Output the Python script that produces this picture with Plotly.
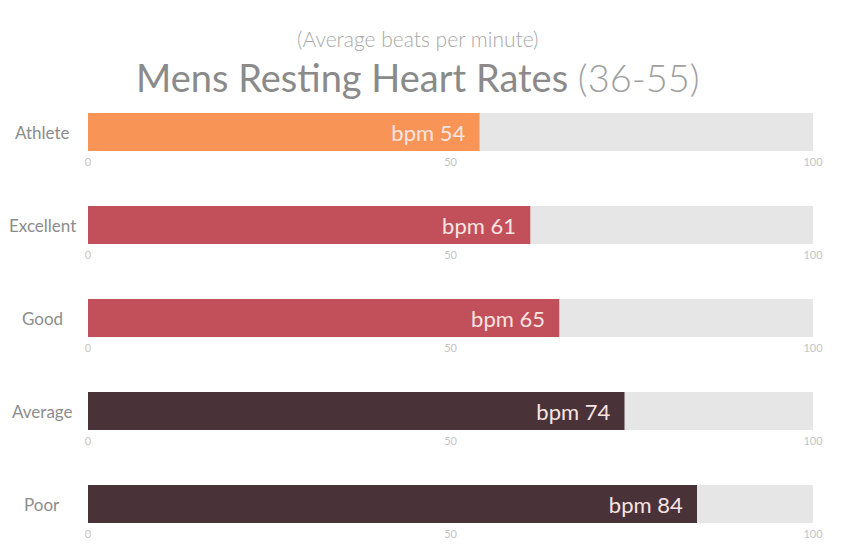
import plotly.graph_objects as go
from plotly.subplots import make_subplots

# categories and values (bpm)
levels = ["Athlete", "Excellent", "Good", "Average", "Poor"]
bpm = [54, 61, 65, 74, 84]
colors = ["#F79456", "#C2505A", "#C2505A", "#4A3239", "#4A3239"]
scale_max = 100
ticks = [0, 50, 100]

fig = make_subplots(rows=len(levels), cols=1, vertical_spacing=55 / 410)

for i, (lvl, v, c) in enumerate(zip(levels, bpm, colors)):
    r = i + 1
    # grey track to 100
    fig.add_trace(go.Bar(x=[scale_max], y=[lvl], orientation="h", width=1,
                         marker=dict(color="#E6E6E6", line=dict(width=0)),
                         hoverinfo="skip", showlegend=False), row=r, col=1)
    fig.add_trace(go.Bar(x=[v], y=[lvl], orientation="h", width=1,
                         marker=dict(color=c, line=dict(width=0)),
                         text=["bpm %d\u00a0\u00a0" % v], textposition="inside",
                         insidetextanchor="end",
                         textfont=dict(family="Lato", size=22, color="#F8E4E2"),
                         showlegend=False), row=r, col=1)
    fig.update_xaxes(range=[0, scale_max], tickvals=ticks, showgrid=False,
                     zeroline=False, showline=False, ticks="",
                     ticklabelstandoff=3, automargin=False,
                     tickfont=dict(family="Lato", size=11, color="#C4C4C4"),
                     row=r, col=1)
    fig.update_yaxes(range=[-0.5, 0.5], showgrid=False, zeroline=False,
                     showticklabels=False, automargin=False, row=r, col=1)
    # centred category label left of the bar
    yname = "y" if r == 1 else "y%d" % r
    fig.add_annotation(text=lvl, xref="paper", x=-0.0634, xanchor="center",
                       yref=yname + " domain", y=0.5, yanchor="middle",
                       showarrow=False,
                       font=dict(family="Lato", size=17, color="#8C8C8C"))

fig.update_layout(
    width=845, height=555,
    margin=dict(l=80, r=40, t=105, b=40),
    barmode="overlay",
    paper_bgcolor="white", plot_bgcolor="white",
    uniformtext=dict(mode=False),
)

fig.add_annotation(text="(Average beats per minute)", xref="paper", yref="paper",
                   x=0.455, y=1.0, yanchor="middle", yshift=75, showarrow=False,
                   font=dict(family="Lato", size=21, weight=300, color="#A8A8A8"))
fig.add_annotation(text="Mens Resting Heart Rates <span style='font-weight:300;color:#A0A0A0'>(36-55)</span>",
                   xref="paper", yref="paper", x=0.455, y=1.0, yanchor="middle",
                   yshift=36, showarrow=False,
                   font=dict(family="Lato", size=38, color="#8A8A8A"))

fig.write_html("out.html")
